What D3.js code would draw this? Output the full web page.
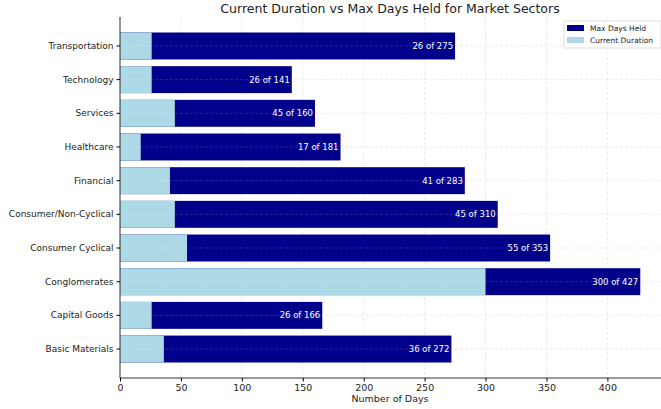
<!DOCTYPE html>
<html><head><meta charset="utf-8">
<script src="https://cdn.jsdelivr.net/npm/d3@7"></script>
<style>body{margin:0;background:#fff}text{font-family:"DejaVu Sans",sans-serif}</style>
</head><body><svg width="661" height="409"></svg>
<script>
const sectors = ["Basic Materials","Capital Goods","Conglomerates","Consumer Cyclical","Consumer/Non-Cyclical","Financial","Healthcare","Services","Technology","Transportation"];
const maxDays = [272,166,427,353,310,283,181,160,141,275];
const currentDur = [36,26,300,55,45,41,17,45,26,26];
const xTicks = [0,50,100,150,200,250,300,350,400];

const svg = d3.select("svg");
const m = {l:120, t:17, b:378};
const x = d3.scaleLinear().domain([0,444]).range([m.l, 661]);
const y = d3.scaleBand().domain(sectors.slice().reverse()).range([m.t, m.b]).paddingInner(0.2).paddingOuter(0.46);

const g = svg.append("g");
g.selectAll("line.vx").data(xTicks).enter().append("line")
  .attr("x1", d=>x(d)).attr("x2", d=>x(d)).attr("y1", m.t).attr("y2", m.b)
  .attr("stroke","#ddd").attr("stroke-width",0.6).attr("stroke-dasharray","3,2");
g.selectAll("line.hy").data(sectors).enter().append("line")
  .attr("x1", m.l).attr("x2", 661).attr("y1", d=>y(d)+y.bandwidth()/2).attr("y2", d=>y(d)+y.bandwidth()/2)
  .attr("stroke","#ddd").attr("stroke-width",0.6).attr("stroke-dasharray","3,2");

const data = sectors.map((s,i)=>({s, max:maxDays[i], cur:currentDur[i]}));
g.selectAll("rect.max").data(data).enter().append("rect")
  .attr("x", x(0)).attr("y", d=>y(d.s)).attr("height", y.bandwidth())
  .attr("width", d=>x(d.max)-x(0)).attr("fill","#00008b");
g.selectAll("rect.cur").data(data).enter().append("rect")
  .attr("x", x(0)).attr("y", d=>y(d.s)).attr("height", y.bandwidth())
  .attr("width", d=>x(d.cur)-x(0)).attr("fill","#add8e6");
g.selectAll("line.over").data(sectors).enter().append("line")
  .attr("x1", m.l).attr("x2", 661).attr("y1", d=>y(d)+y.bandwidth()/2).attr("y2", d=>y(d)+y.bandwidth()/2)
  .attr("stroke","#fff").attr("stroke-opacity",0.25).attr("stroke-width",0.6).attr("stroke-dasharray","3,2");
g.selectAll("text.lab").data(data).enter().append("text")
  .attr("x", d=>x(d.max)-2).attr("y", d=>y(d.s)+y.bandwidth()/2+3)
  .attr("text-anchor","end").attr("fill","#fff").attr("font-size",8.5)
  .text(d=>d.cur+" of "+d.max);

svg.append("g").attr("transform",`translate(0,${m.b})`)
  .call(d3.axisBottom(x).tickValues(xTicks).tickSize(3.5))
  .call(a=>a.selectAll("text").attr("font-size",9.5).attr("fill","#222"))
  .call(a=>a.select(".domain").remove());
svg.append("g").attr("transform",`translate(${m.l},0)`)
  .call(d3.axisLeft(y).tickSize(3.5))
  .call(a=>a.selectAll("text").attr("font-size",9).attr("fill","#222"))
  .call(a=>a.select(".domain").remove());
svg.append("line").attr("x1",m.l).attr("x2",m.l).attr("y1",m.t).attr("y2",m.b).attr("stroke","#000").attr("stroke-width",0.8);
svg.append("line").attr("x1",m.l).attr("x2",661).attr("y1",m.b).attr("y2",m.b).attr("stroke","#000").attr("stroke-width",0.8);

svg.append("text").attr("x",390).attr("y",13).attr("text-anchor","middle").attr("font-size",12.5).attr("fill","#222")
  .text("Current Duration vs Max Days Held for Market Sectors");
svg.append("text").attr("x",390).attr("y",402).attr("text-anchor","middle").attr("font-size",9.5).attr("fill","#222")
  .text("Number of Days");

const leg = svg.append("g").attr("transform","translate(564,21)");
leg.append("rect").attr("width",97).attr("height",27).attr("fill","#fff").attr("stroke","#ddd").attr("opacity",0.9);
[["Max Days Held","#00008b"],["Current Duration","#add8e6"]].forEach((d,i)=>{
  leg.append("rect").attr("x",3).attr("y",4+i*12).attr("width",17).attr("height",6).attr("fill",d[1]);
  leg.append("text").attr("x",26).attr("y",10+i*12).attr("font-size",7.5).attr("fill","#222").text(d[0]);
});
</script></body></html>
